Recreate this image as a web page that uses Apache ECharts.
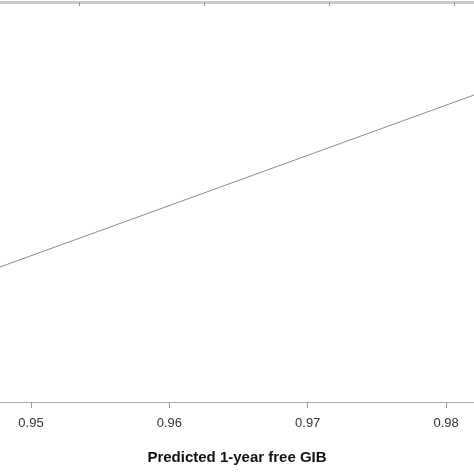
<!DOCTYPE html>
<html>
<head>
<meta charset="utf-8">
<script src="https://cdn.jsdelivr.net/npm/echarts@6/dist/echarts.min.js"></script>
<style>html,body{margin:0;padding:0;background:#fff}#chart{width:474px;height:474px}</style>
</head>
<body>
<div id="chart"></div>
<script>
// line endpoints
var xValues = [0.94776, 0.98202];
var yValues = [0.3375, 0.7675];
var xTicks = [0.95, 0.96, 0.97, 0.98];
var topTicks = [0, 1, 2, 3];

var chart = echarts.init(document.getElementById('chart'));
chart.setOption({
    animation: false,
    grid: {left: 0, right: 0, top: 2, bottom: 72},
    xAxis: [{
        type: 'value',
        min: 0.94776,
        max: 0.98202,
        position: 'bottom',
        splitLine: {show: false},
        axisLine: {lineStyle: {color: '#aaa', width: 1}},
        axisTick: {length: 6, inside: false, lineStyle: {color: '#999'}, customValues: xTicks},
        axisLabel: {
            customValues: xTicks, margin: 15,
            color: '#333', fontSize: 13, fontFamily: 'Liberation Sans',
            formatter: function (v) { return v.toFixed(2); }
        },
        name: 'Predicted 1-year free GIB',
        nameLocation: 'middle',
        nameGap: 48,
        nameTextStyle: {color: '#111', fontSize: 15, fontWeight: 'bold', fontFamily: 'Liberation Sans'}
    }, {
        type: 'value',
        min: -0.632,
        max: 3.16,
        position: 'top',
        splitLine: {show: false},
        axisLine: {lineStyle: {color: '#ccc', width: 3}},
        axisTick: {inside: true, length: 4, lineStyle: {color: '#999'}, customValues: topTicks},
        axisLabel: {show: false}
    }],
    yAxis: {type: 'value', min: 0, max: 1, show: false},
    series: [{
        type: 'line',
        data: xValues.map(function (x, i) { return [x, yValues[i]]; }),
        symbol: 'none',
        lineStyle: {color: '#8a8a8a', width: 1}
    }]
});
</script>
</body>
</html>
